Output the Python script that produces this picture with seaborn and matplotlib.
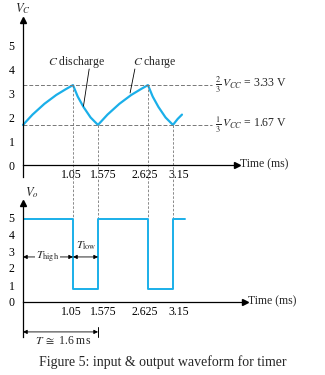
import matplotlib
matplotlib.use("Agg")
import matplotlib.pyplot as plt
import matplotlib.transforms as mtransforms
import seaborn as sns
import pandas as pd

# ---- data ----
vc_time = [0, 0.2, 0.45, 0.7, 0.9, 1.05, 1.15, 1.27, 1.42, 1.575,
           1.775, 2.025, 2.275, 2.475, 2.625, 2.725, 2.845, 2.995, 3.15,
           3.25, 3.34]
vc_volts = [1.67, 2.1, 2.55, 2.92, 3.16, 3.33, 2.85, 2.42, 1.98, 1.67,
            2.1, 2.55, 2.92, 3.16, 3.33, 2.85, 2.42, 1.98, 1.67,
            1.92, 2.1]
vo_edges = [0, 1.05, 1.575, 2.625, 3.15, 3.4]
vo_levels = [4.9, 0.76, 4.9, 0.76, 4.9, 4.9]
switch_times = [1.05, 1.575, 2.625, 3.15]
switch_labels = ["1.05", "1.575", "2.625", "3.15"]
vc_thresholds = [3.33, 1.67]
threshold_labels = [r"$\frac{2}{3}\,V_{CC}$ = 3.33 V", r"$\frac{1}{3}\,V_{CC}$ = 1.67 V"]
y_ticks = [0, 1, 2, 3, 4, 5]

sns.set_style("white")
plt.rcParams["font.family"] = ["Liberation Serif", "DejaVu Serif"]
plt.rcParams["mathtext.fontset"] = "stix"

BLUE = "#1aafe9"
GREY = "#777777"
FS = 8.5

fig = plt.figure(figsize=(3.25, 3.75), dpi=100)
W, H = 325, 375

def frac_box(x0, x1, ytop, ybot):
    return [x0 / W, (H - ybot) / H, (x1 - x0) / W, (ybot - ytop) / H]

ax1 = fig.add_axes(frac_box(23, 237.2, 19.8, 177))
ax2 = fig.add_axes(frac_box(23, 245, 200, 341.1))

# ---- top: capacitor voltage ----
df_vc = pd.DataFrame({"t": vc_time, "v": vc_volts})
sns.lineplot(data=df_vc, x="t", y="v", ax=ax1, color=BLUE, lw=1.6,
             estimator=None, sort=False, clip_on=False)

# ---- bottom: output voltage ----
df_vo = pd.DataFrame({"t": vo_edges, "v": vo_levels})
sns.lineplot(data=df_vo, x="t", y="v", ax=ax2, color=BLUE, lw=1.4,
             estimator=None, drawstyle="steps-post")

ax1.set_xlim(0, 4.5)
ax1.set_ylim(-0.5, 6.05)
ax2.set_xlim(0, 4.66)
ax2.set_ylim(-2.3, 6.0)

label_shift_px = [-2, 5.5, -3, 5.5]

for ax in (ax1, ax2):
    ax.patch.set_alpha(0)
    for s in ("top", "right"):
        ax.spines[s].set_visible(False)
    ax.spines["bottom"].set_position(("data", 0))
    ax.spines["left"].set_position(("data", 0))
    for s in ("bottom", "left"):
        ax.spines[s].set_color("black")
        ax.spines[s].set_linewidth(0.9)
    ax.set_yticks(y_ticks)
    ax.set_yticklabels([str(v) for v in y_ticks], fontsize=FS)
    ax.tick_params(axis="y", direction="in", length=7, width=0.9, pad=6, colors="black")
    ax.set_xticks(switch_times)
    ax.set_xticklabels(switch_labels, fontsize=FS)
    ax.tick_params(axis="x", length=0, pad=3, colors="black")
    ax.set_xlabel("")
    ax.set_ylabel("")
    for lab, dx in zip(ax.get_xticklabels(), label_shift_px):
        lab.set_transform(lab.get_transform() +
                          mtransforms.ScaledTranslation(dx / 100, 0, fig.dpi_scale_trans))
ax2.spines["left"].set_bounds(-2.06, 5.82)

# arrowheads on axes
ax1.plot([0], [6.05], marker="^", color="black", markersize=4, clip_on=False)
ax1.plot([4.5], [0], marker=">", color="black", markersize=4, clip_on=False)
ax2.plot([0], [5.82], marker="^", color="black", markersize=4, clip_on=False)
ax2.plot([4.66], [0], marker=">", color="black", markersize=4, clip_on=False)

for thr, lab in zip(vc_thresholds, threshold_labels):
    ax1.plot([0, 3.97], [thr, thr], color=GREY, lw=0.7, dashes=(4, 2), clip_on=False)
    ax1.text(4.03, thr, lab, fontsize=FS, va="center", ha="left", clip_on=False)

# vertical dashed guides down to the output waveform
for t in switch_times:
    v_start = vc_volts[vc_time.index(t)]
    ax1.plot([t, t], [v_start, -2.21], color=GREY, lw=0.6, dashes=(3, 2), clip_on=False)

ax1.text(0, 6.5, r"$V_C$", fontsize=9, ha="center", va="center")
ax1.text(4.56, 0.05, "Time (ms)", fontsize=FS, ha="left", va="center", clip_on=False)
ax1.text(1.12, 4.3, r"$C$ discharge", fontsize=FS, ha="center", va="center")
ax1.plot([1.39, 1.27], [4.0, 2.45], color="black", lw=0.6)
ax1.text(2.78, 4.3, r"$C$ charge", fontsize=FS, ha="center", va="center")
ax1.plot([2.35, 2.25], [4.0, 3.0], color="black", lw=0.6)

ax2.text(0.18, 6.45, r"$V_o$", fontsize=9, ha="center", va="center")
ax2.text(4.73, 0.05, "Time (ms)", fontsize=FS, ha="left", va="center", clip_on=False)

arrow = dict(arrowstyle="<|-|>", color="black", lw=0.6, mutation_scale=6,
             shrinkA=0, shrinkB=0)
ax2.annotate("", xy=(0, 2.65), xytext=(1.05, 2.65), arrowprops=arrow)
ax2.text(0.52, 2.65, r"$T_{\mathrm{high}}$", fontsize=FS, ha="center", va="center",
         bbox=dict(facecolor="white", edgecolor="none", pad=0.5))
ax2.annotate("", xy=(1.05, 2.65), xytext=(1.575, 2.65), arrowprops=arrow)
ax2.text(1.33, 3.3, r"$T_{\mathrm{low}}$", fontsize=FS, ha="center", va="center")

ax2.annotate("", xy=(0, -1.76), xytext=(1.575, -1.76), arrowprops=arrow)
ax2.plot([1.575, 1.575], [-1.45, -2.06], color="black", lw=0.7)
ax2.text(0.85, -2.3, r"$T\;\cong$ 1.6 ms", fontsize=FS, ha="center", va="center")

fig.text(0.5, 1 - 362 / H, "Figure 5: input & output waveform for timer",
         fontsize=10, ha="center", va="center")

fig.savefig("out.png", dpi=100)
